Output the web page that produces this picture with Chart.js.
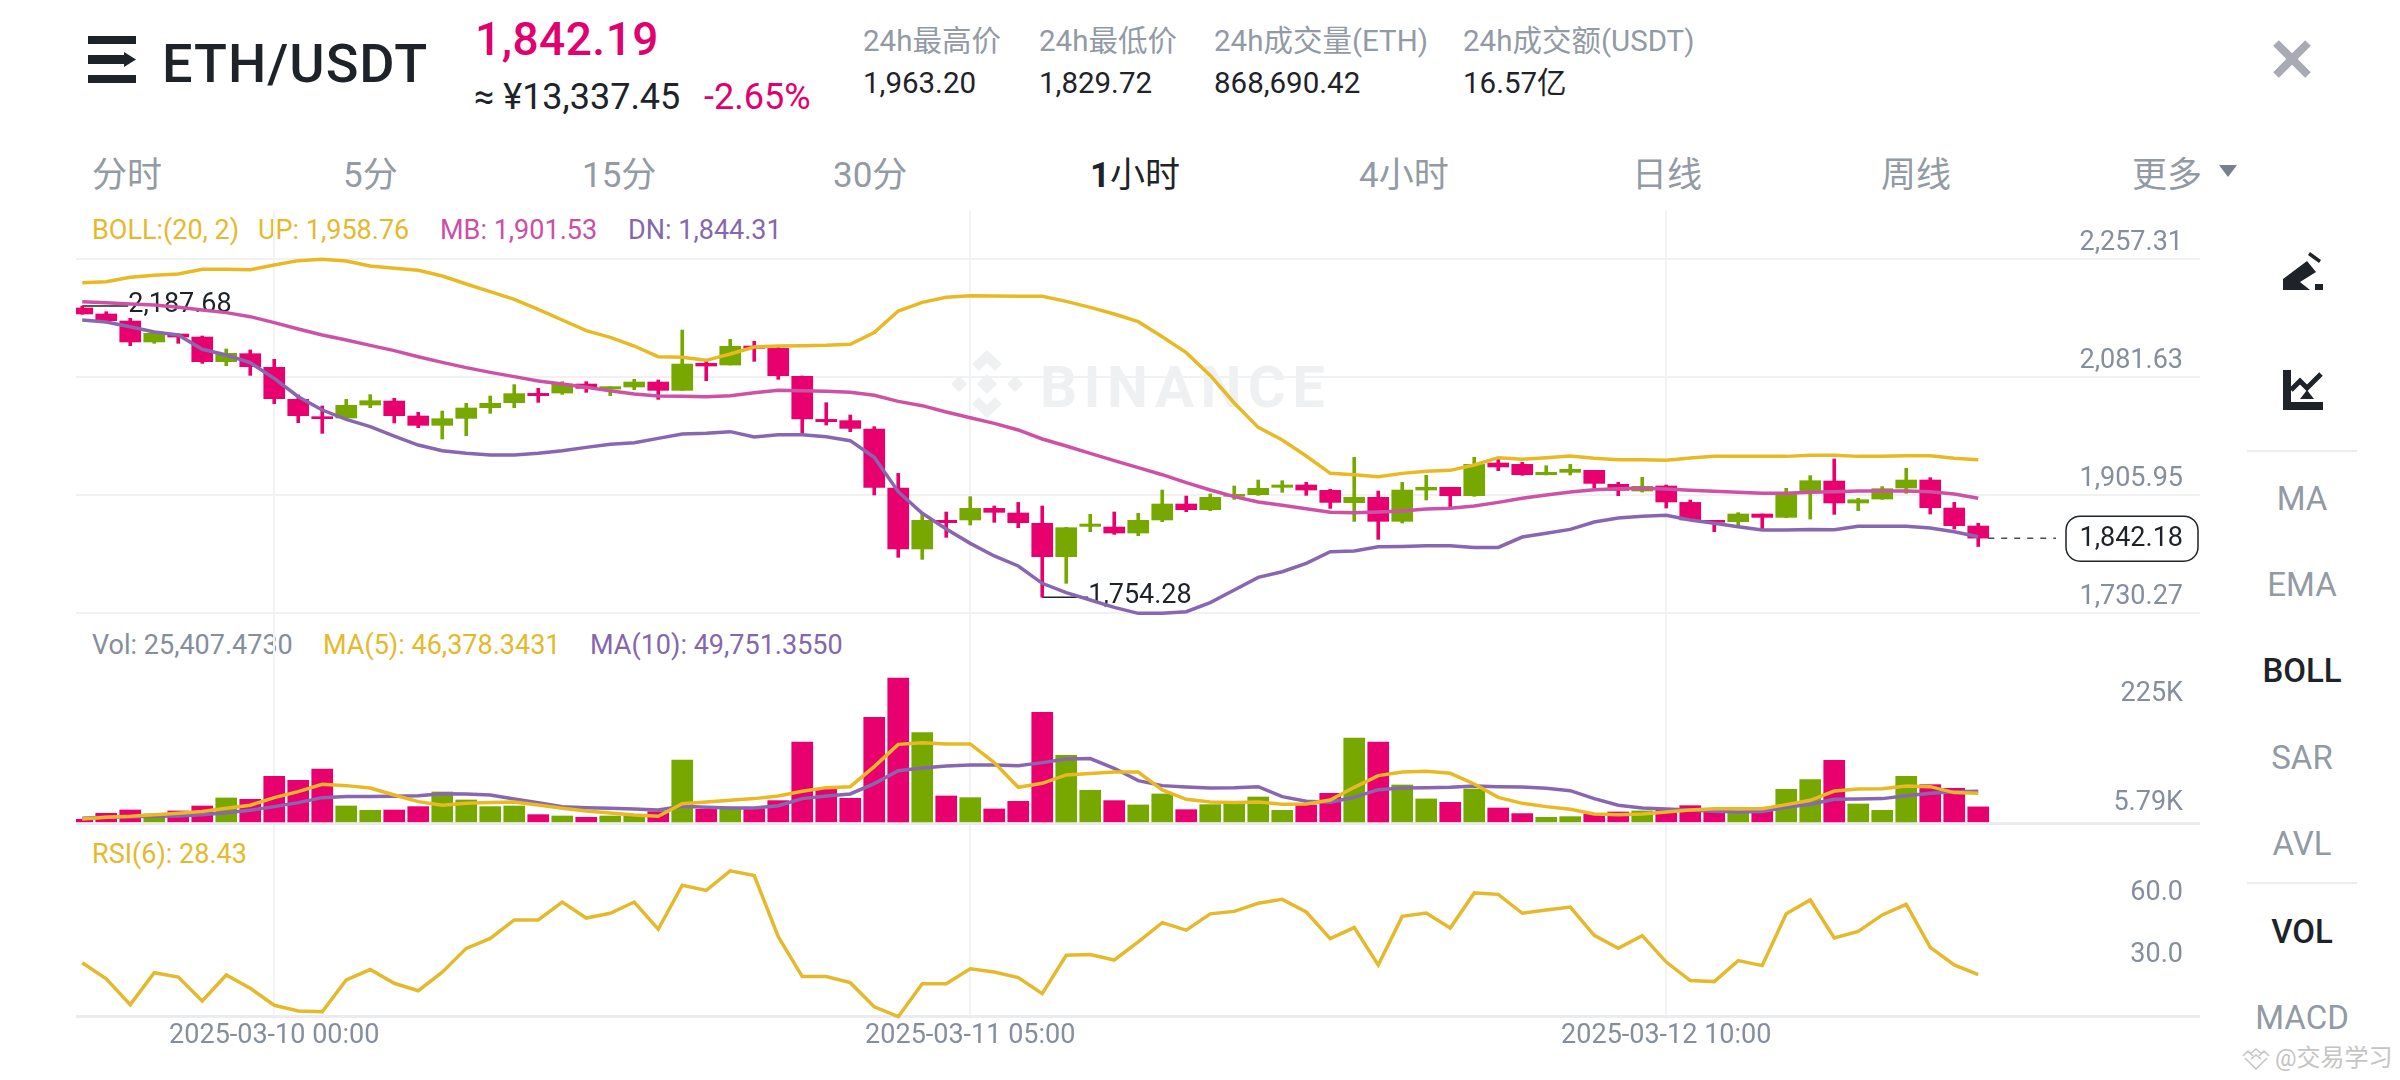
<!DOCTYPE html>
<html>
<head>
<meta charset="utf-8">
<title>ETH/USDT</title>
<script src="https://cdn.jsdelivr.net/npm/chart.js@4/dist/chart.umd.min.js"></script>
<style>
html, body { margin: 0; padding: 0; background: #fff; }
body { position: relative; width: 2400px; height: 1080px; overflow: hidden; font-family: Roboto, "Noto Sans CJK SC", sans-serif; color: #1E2329; }
.t { position: absolute; white-space: nowrap; line-height: 1; }
.grey { color: #929AA5; }
.pink { color: #E0006E; }
.yellow { color: #E5B92C; }
.magenta { color: #CB4FA6; }
.purple { color: #8567AC; }
.side { left: 2202px; width: 200px; text-align: center; font-size: 33px; }
.tab { top: 158px; font-size: 35px; }
.legend { font-size: 27px; }
.stat { font-size: 29.5px; }
.sep { position: absolute; left: 2247px; width: 110px; height: 2px; background: #EAECEF; }
canvas { position: absolute; left: 76px; }
svg { position: absolute; }
</style>
</head>
<body>

<!-- watermark sits under the transparent canvases -->
<svg style="left:950px;top:350px" width="74" height="68" viewBox="0 0 74 68" fill="#EEF0F2">
  <path d="M37 0 L52 14 L45 21 L37 13 L29 21 L22 14 Z"/>
  <path d="M37 68 L52 54 L45 47 L37 55 L29 47 L22 54 Z"/>
  <path d="M37 24 L47 34 L37 44 L27 34 Z"/>
  <path d="M9 26 L17 34 L9 42 L1 34 Z"/>
  <path d="M65 26 L73 34 L65 42 L57 34 Z"/>
</svg>
<div class="t" style="left:1040px;top:358px;font-size:58px;font-weight:700;letter-spacing:6.5px;color:#EEF0F2">BINANCE</div>

<svg style="left:88px;top:36px" width="48" height="47" fill="#1E2329">
  <rect x="0" y="0" width="48" height="8"/>
  <rect x="0" y="19" width="36" height="9"/>
  <polygon points="36,16 48,23.5 36,31"/>
  <rect x="0" y="39" width="48" height="8"/>
</svg>
<div class="t" style="left:162px;top:37px;font-size:54px;font-weight:500;letter-spacing:1px">ETH/USDT</div>
<div class="t pink" style="left:475px;top:16px;font-size:46px;font-weight:500;letter-spacing:.5px">1,842.19</div>
<div class="t" style="left:474px;top:79px;font-size:36px">≈ ¥13,337.45</div>
<div class="t pink" style="left:704px;top:79px;font-size:36px">-2.65%</div>

<div class="t stat grey" style="left:863px;top:27px">24h最高价</div>
<div class="t stat" style="left:863px;top:69px">1,963.20</div>
<div class="t stat grey" style="left:1039px;top:27px">24h最低价</div>
<div class="t stat" style="left:1039px;top:69px">1,829.72</div>
<div class="t stat grey" style="left:1214px;top:27px">24h成交量(ETH)</div>
<div class="t stat" style="left:1214px;top:69px">868,690.42</div>
<div class="t stat grey" style="left:1463px;top:27px">24h成交额(USDT)</div>
<div class="t stat" style="left:1463px;top:69px">16.57亿</div>

<div class="t tab grey" style="left:92px">分时</div>
<div class="t tab grey" style="left:343px">5分</div>
<div class="t tab grey" style="left:582px">15分</div>
<div class="t tab grey" style="left:833px">30分</div>
<div class="t tab" style="left:1090px"><b style="font-weight:700">1</b>小时</div>
<div class="t tab grey" style="left:1359px">4小时</div>
<div class="t tab grey" style="left:1632px">日线</div>
<div class="t tab grey" style="left:1881px">周线</div>
<div class="t tab grey" style="left:2132px">更多</div>
<svg style="left:2219px;top:165px" width="18" height="12"><polygon points="0,0 18,0 9,12" fill="#76808F"/></svg>

<div class="t legend yellow" style="left:92px;top:217px">BOLL:(20, 2)</div>
<div class="t legend yellow" style="left:258px;top:217px">UP: 1,958.76</div>
<div class="t legend magenta" style="left:440px;top:217px">MB: 1,901.53</div>
<div class="t legend purple" style="left:628px;top:217px">DN: 1,844.31</div>
<div class="t legend" style="left:92px;top:632px;color:#848E9C">Vol: 25,407.4730</div>
<div class="t legend yellow" style="left:323px;top:632px">MA(5): 46,378.3431</div>
<div class="t legend purple" style="left:590px;top:632px">MA(10): 49,751.3550</div>
<div class="t legend yellow" style="left:92px;top:841px">RSI(6): 28.43</div>

<canvas id="priceChart" width="2124" height="407" style="top:210px"></canvas>
<canvas id="volChart" width="2124" height="209" style="top:617px"></canvas>
<canvas id="rsiChart" width="2124" height="237" style="top:826px"></canvas>

<svg style="left:2273px;top:40px" width="38" height="38" stroke="#A8ABB3" stroke-width="8"><line x1="3" y1="3" x2="35" y2="35"/><line x1="35" y1="3" x2="3" y2="35"/></svg>
<svg style="left:2283px;top:252px" width="40" height="38" fill="#1E2329">
  <polygon points="0,38 0,27 24,9 33,20 17,30 27,38"/>
  <polygon points="27,0 38,8 36,11 25,3"/>
  <rect x="32" y="32" width="8" height="6"/>
</svg>
<svg style="left:2283px;top:370px" width="40" height="40" fill="#1E2329">
  <rect x="0" y="0" width="8" height="40"/>
  <rect x="0" y="32" width="40" height="8"/>
  <polyline points="8,20 17,11 24,18 38,4" fill="none" stroke="#1E2329" stroke-width="5"/>
  <polygon points="17,29 24,20 31,29"/>
</svg>
<div class="sep" style="top:450px"></div>
<div class="t side grey" style="top:482px">MA</div>
<div class="t side grey" style="top:568px">EMA</div>
<div class="t side" style="top:654px;font-weight:500">BOLL</div>
<div class="t side grey" style="top:741px">SAR</div>
<div class="t side grey" style="top:827px">AVL</div>
<div class="sep" style="top:882px"></div>
<div class="t side" style="top:915px;font-weight:500">VOL</div>
<div class="t side grey" style="top:1001px">MACD</div>

<svg style="left:2242px;top:1048px" width="28" height="22" fill="none" stroke="#C4C4C4" stroke-width="1.5">
  <path d="M1 8 L6 3 L11 8 M17 8 L22 3 L27 8 M8 6 L14 1 L20 6 M9 11 L14 7 L19 11 M3 10 L14 21 L25 10"/>
</svg>
<div class="t" style="left:2275px;top:1046px;font-size:24px;color:#C4C4C4">@交易学习</div>

<script>
var opens = [
    2184.8, 2175.9, 2165.4, 2134.2, 2146.1, 2141.6, 2104.9, 2116.8, 2096.5, 2048.8,
    2023.0, 2021.0, 2040.4, 2046.3, 2024.0, 2010.1, 2020.5, 2036.4, 2043.8, 2057.7,
    2058.2, 2071.6, 2064.2, 2067.2, 2074.6, 2062.2, 2102.4, 2099.9, 2128.2, 2124.7,
    2083.1, 2019.0, 2017.1, 2004.6, 1916.8, 1826.0, 1868.7, 1869.2, 1886.5, 1879.6,
    1864.2, 1814.6, 1859.7, 1858.7, 1849.8, 1869.2, 1893.0, 1884.5, 1904.4, 1906.9,
    1917.8, 1921.3, 1913.3, 1895.0, 1902.9, 1867.2, 1913.8, 1917.8, 1905.4, 1954.0,
    1952.0, 1936.6, 1940.1, 1943.1, 1922.3, 1912.3, 1919.8, 1895.4, 1868.7, 1866.7,
    1878.1, 1873.1, 1910.4, 1927.2, 1894.5, 1900.4, 1916.8, 1928.7, 1887.0, 1860.2
];
var closes = [
    2175.9, 2165.9, 2134.2, 2147.1, 2141.6, 2104.9, 2117.3, 2097.4, 2049.8, 2024.5,
    2020.0, 2039.9, 2046.8, 2024.5, 2010.1, 2020.0, 2035.9, 2042.9, 2057.3, 2054.3,
    2071.6, 2065.2, 2067.7, 2074.6, 2062.2, 2101.4, 2098.4, 2127.7, 2124.7, 2084.0,
    2019.5, 2015.6, 2005.6, 1917.8, 1826.0, 1868.7, 1865.2, 1886.5, 1880.6, 1865.2,
    1814.6, 1857.7, 1863.2, 1849.8, 1868.7, 1893.0, 1884.5, 1902.9, 1907.4, 1916.3,
    1921.3, 1913.8, 1895.4, 1902.9, 1867.2, 1913.8, 1917.8, 1905.4, 1952.0, 1948.1,
    1936.6, 1940.1, 1944.6, 1923.7, 1913.3, 1919.3, 1896.0, 1869.2, 1865.7, 1878.1,
    1873.1, 1907.4, 1927.7, 1894.5, 1899.4, 1915.8, 1928.7, 1887.5, 1860.7, 1842.18
];
var highs = [
    2187.68, 2179.3, 2169.4, 2149.6, 2146.1, 2143.1, 2123.8, 2122.3, 2108.4, 2055.3,
    2038.9, 2048.8, 2055.8, 2050.3, 2029.5, 2031.4, 2042.9, 2053.8, 2070.7, 2065.2,
    2075.1, 2075.1, 2067.7, 2078.6, 2077.6, 2152.0, 2106.4, 2138.1, 2135.2, 2127.2,
    2083.6, 2043.8, 2025.5, 2008.1, 1938.6, 1879.1, 1881.1, 1903.9, 1890.0, 1895.4,
    1890.0, 1858.2, 1877.6, 1881.1, 1879.1, 1913.8, 1904.9, 1907.9, 1919.8, 1928.7,
    1927.7, 1925.2, 1914.8, 1962.5, 1912.3, 1925.2, 1935.7, 1917.8, 1962.5, 1959.5,
    1955.0, 1950.0, 1952.0, 1943.1, 1925.2, 1932.7, 1921.3, 1898.9, 1868.7, 1880.1,
    1878.1, 1916.3, 1935.2, 1960.0, 1901.4, 1918.8, 1946.1, 1932.2, 1895.4, 1864.2
];
var lows = [
    2175.5, 2164.4, 2128.7, 2132.2, 2132.2, 2102.4, 2098.9, 2084.5, 2042.4, 2014.1,
    1998.2, 2021.0, 2036.4, 2013.6, 2006.6, 1989.8, 1994.7, 2028.0, 2036.4, 2044.3,
    2056.3, 2059.2, 2054.3, 2063.2, 2048.8, 2062.2, 2076.6, 2099.9, 2105.4, 2078.6,
    1995.7, 2010.6, 2000.7, 1906.4, 1813.6, 1810.6, 1843.4, 1861.7, 1865.7, 1857.7,
    1754.28, 1774.9, 1851.8, 1847.8, 1845.8, 1866.7, 1881.6, 1883.0, 1899.9, 1905.9,
    1910.4, 1905.9, 1886.5, 1867.2, 1840.4, 1864.7, 1898.9, 1889.0, 1904.4, 1942.6,
    1935.7, 1936.2, 1936.2, 1916.3, 1905.4, 1910.8, 1887.0, 1868.2, 1851.8, 1860.2,
    1855.3, 1872.6, 1870.6, 1877.6, 1883.0, 1899.9, 1908.9, 1878.1, 1855.7, 1829.72
];
var bollUp = [
    2222.5, 2224.0, 2230.5, 2233.4, 2235.4, 2242.4, 2242.4, 2241.9, 2248.8, 2255.3,
    2257.3, 2254.8, 2247.3, 2243.9, 2240.9, 2232.4, 2220.5, 2209.1, 2197.7, 2182.8,
    2166.9, 2151.1, 2141.1, 2128.2, 2112.3, 2111.3, 2106.9, 2116.3, 2126.7, 2128.2,
    2128.7, 2129.2, 2130.7, 2148.1, 2180.3, 2193.2, 2200.7, 2203.2, 2202.7, 2202.2,
    2202.2, 2194.7, 2185.8, 2175.9, 2164.4, 2142.1, 2118.3, 2084.5, 2043.4, 2007.1,
    1988.3, 1964.4, 1938.6, 1936.6, 1933.7, 1938.6, 1941.6, 1943.1, 1951.0, 1962.0,
    1959.5, 1962.0, 1964.4, 1961.0, 1959.0, 1959.0, 1958.0, 1961.5, 1963.9, 1963.9,
    1963.9, 1963.9, 1965.4, 1965.4, 1963.9, 1963.9, 1964.9, 1964.9, 1961.0, 1958.76
];
var bollMid = [
    2194.2, 2192.7, 2190.8, 2189.3, 2185.8, 2181.8, 2177.9, 2171.9, 2163.0, 2153.5,
    2144.6, 2137.2, 2129.2, 2121.3, 2112.3, 2103.9, 2096.0, 2089.0, 2082.6, 2076.1,
    2071.6, 2066.7, 2061.7, 2056.8, 2053.8, 2053.3, 2052.8, 2054.3, 2058.7, 2062.2,
    2061.7, 2060.7, 2059.2, 2054.8, 2045.8, 2039.4, 2030.0, 2021.5, 2013.1, 2003.2,
    1989.8, 1979.3, 1968.4, 1957.5, 1947.1, 1936.6, 1924.7, 1913.8, 1903.9, 1896.0,
    1891.0, 1886.0, 1880.6, 1880.1, 1881.1, 1882.6, 1885.5, 1886.5, 1890.0, 1895.4,
    1901.4, 1906.4, 1910.8, 1914.3, 1915.8, 1916.3, 1915.3, 1913.3, 1911.8, 1910.4,
    1908.9, 1908.9, 1910.4, 1911.3, 1912.3, 1912.3, 1912.3, 1911.3, 1907.9, 1901.53
];
var bollDn = [
    2166.9, 2164.0, 2157.0, 2149.1, 2144.6, 2123.3, 2114.8, 2103.4, 2080.1, 2052.8,
    2032.9, 2019.0, 2008.1, 1994.2, 1980.8, 1972.4, 1968.4, 1965.9, 1965.9, 1968.4,
    1972.4, 1977.3, 1981.8, 1984.3, 1990.7, 1997.2, 1998.2, 2000.7, 1992.7, 1996.2,
    1996.2, 1993.2, 1987.3, 1962.5, 1911.3, 1879.1, 1855.7, 1834.4, 1815.6, 1800.7,
    1774.9, 1761.0, 1750.0, 1739.1, 1730.2, 1730.2, 1732.7, 1746.1, 1765.0, 1783.8,
    1792.2, 1804.6, 1822.0, 1823.0, 1829.4, 1829.9, 1830.9, 1830.9, 1828.4, 1828.4,
    1843.8, 1849.3, 1855.2, 1866.2, 1872.1, 1874.6, 1876.1, 1869.2, 1864.2, 1859.2,
    1854.3, 1854.3, 1855.2, 1854.8, 1859.7, 1859.7, 1859.7, 1857.2, 1851.8, 1844.31
];
// volume, in thousands
var volumes = [
    6.2, 15.5, 20.6, 14.4, 19.1, 26.8, 39.2, 37.1, 72.7, 66.5,
    84.1, 26.8, 20.1, 20.6, 25.8, 48.5, 36.1, 25.8, 26.8, 13.4,
    11.3, 9.3, 11.3, 11.3, 18.1, 98.0, 21.7, 23.2, 23.2, 35.1,
    125.9, 53.6, 38.7, 164.0, 224.9, 140.3, 42.3, 39.7, 22.2, 34.0,
    171.8, 105.2, 51.1, 35.1, 28.4, 45.4, 21.1, 28.9, 30.9, 40.7,
    20.1, 28.4, 46.4, 132.0, 125.9, 59.3, 37.7, 32.5, 53.1, 23.7,
    15.0, 9.3, 10.3, 14.4, 17.5, 19.1, 20.6, 27.3, 22.2, 16.0,
    20.6, 52.6, 67.6, 97.5, 29.9, 20.1, 72.7, 59.8, 54.2, 25.407
];
var volMa5 = [
    6.7, 9.3, 10.8, 13.4, 15.5, 18.1, 23.2, 27.9, 39.7, 49.0,
    60.3, 58.3, 54.7, 43.8, 33.5, 27.9, 30.9, 32.0, 33.0, 28.4,
    23.2, 19.1, 16.0, 12.9, 10.8, 30.4, 33.0, 35.6, 38.2, 42.3,
    49.5, 55.2, 56.7, 87.7, 122.2, 124.8, 122.8, 122.8, 93.9, 55.7,
    61.9, 74.8, 76.9, 79.4, 79.4, 51.6, 37.1, 33.0, 32.0, 33.0,
    29.4, 29.9, 36.1, 55.7, 73.8, 79.4, 80.5, 77.4, 60.9, 40.2,
    30.9, 25.8, 21.7, 14.4, 13.4, 14.4, 17.5, 20.6, 22.7, 22.7,
    22.7, 28.9, 35.6, 50.0, 53.1, 53.6, 57.8, 56.7, 47.5, 46.378
];
var volMa10 = [
    7.7, 9.3, 10.3, 10.8, 11.3, 13.4, 16.5, 20.1, 25.8, 32.0,
    39.7, 41.3, 41.3, 41.8, 42.8, 45.9, 45.4, 43.8, 37.7, 32.0,
    25.8, 24.2, 23.2, 22.2, 20.6, 26.3, 24.8, 23.7, 23.7, 27.3,
    38.2, 42.3, 45.4, 61.4, 81.5, 85.6, 88.7, 90.3, 90.3, 89.2,
    93.9, 99.5, 100.1, 85.1, 66.0, 58.3, 56.2, 54.7, 55.2, 56.7,
    41.3, 34.0, 32.5, 40.2, 52.1, 54.7, 55.2, 55.7, 57.8, 56.7,
    56.2, 54.2, 50.5, 38.2, 27.9, 23.7, 22.2, 20.6, 18.6, 17.5,
    18.1, 24.8, 29.4, 37.1, 37.7, 38.2, 42.8, 46.4, 49.0, 49.751
];
var rsi6 = [
    34.2, 26.4, 14.0, 29.4, 27.3, 15.8, 28.3, 21.9, 13.7, 11.0,
    10.6, 25.9, 30.9, 24.3, 20.7, 29.6, 41.1, 45.9, 54.8, 54.8,
    63.4, 55.7, 58.0, 63.4, 50.3, 71.5, 69.0, 78.4, 76.1, 46.7,
    27.5, 27.5, 24.6, 13.0, 8.2, 24.1, 24.1, 31.3, 29.7, 27.0,
    19.3, 37.8, 38.1, 35.5, 44.2, 53.5, 49.9, 57.7, 58.9, 62.8,
    64.7, 58.6, 45.8, 51.1, 33.1, 56.5, 58.1, 50.9, 67.8, 67.1,
    58.0, 59.6, 61.0, 47.4, 41.1, 47.2, 34.5, 25.6, 25.1, 35.2,
    32.8, 57.8, 64.4, 46.1, 49.3, 57.2, 62.3, 41.6, 33.1, 28.43
];
var priceTicks = [1730.27, 1905.95, 2081.63, 2257.31];
// 300 carries no label, it only stops the two-line 225K label eating into the pane
var volTicks = [0, 5.79, 225, 300];
var rsiTicks = [8.2, 30, 60];
var timeTicks = [8, 37, 66];
var timeLabels = ['2025-03-10 00:00', '2025-03-11 05:00', '2025-03-12 10:00'];

var PINK = '#E8006E';
var GREEN = '#76A800';
var TICK_GREY = '#848E9C';
var FONT = 'Roboto, "Noto Sans CJK SC", sans-serif';

Chart.defaults.font.family = FONT;
Chart.defaults.animation = false;
Chart.defaults.devicePixelRatio = 1;

function candleColor(i)
{
    return closes[i] >= opens[i] ? GREEN : PINK;
}

function points(values)
{
    return values.map(function (v, i) { return {x: i, y: v}; });
}

function lineSet(values, color)
{
    return {
        type: 'line',
        data: points(values),
        borderColor: color,
        borderWidth: 3.5,
        pointRadius: 0,
        tension: 0,
        order: 1
    };
}

function formatPrice(v)
{
    return v.toLocaleString('en-US', {minimumFractionDigits: 2, maximumFractionDigits: 2});
}

// shared x scale, a linear one so every pane keeps the same candle spacing
function xScale(showLabels)
{
    return {
        type: 'linear',
        offset: false,
        min: -0.26,
        max: 88.24,
        grid: {color: '#F2F3F5', lineWidth: 2, drawTicks: false, offset: false},
        border: {display: false},
        afterBuildTicks: function (scale) {
            scale.ticks = timeTicks.map(function (v) { return {value: v}; });
        },
        afterFit: function (scale) {
            scale.height = showLabels ? 44 : 0;
        },
        ticks: {
            display: showLabels,
            autoSkip: false,
            maxRotation: 0,
            padding: 1,
            color: TICK_GREY,
            font: {size: 27},
            callback: function (v) {
                return timeLabels[timeTicks.indexOf(v)];
            }
        }
    };
}

function yScale(min, max, tickValues, labelFn, labelOffset, gridColor, gridWidth)
{
    return {
        position: 'right',
        min: min,
        max: max,
        grid: {color: gridColor, lineWidth: gridWidth, drawTicks: false},
        border: {display: false},
        afterBuildTicks: function (scale) {
            scale.ticks = tickValues.map(function (v) { return {value: v}; });
        },
        afterFit: function (scale) {
            scale.width = 0;
        },
        ticks: {
            mirror: true,
            autoSkip: false,
            padding: -17,
            labelOffset: labelOffset,
            color: TICK_GREY,
            font: {size: 27},
            callback: labelFn
        }
    };
}

function baseOptions(x, y)
{
    return {
        responsive: false,
        layout: {padding: 0, autoPadding: false},
        plugins: {legend: {display: false}, tooltip: {enabled: false}},
        events: [],
        scales: {x: x, y: y}
    };
}

// extreme price notes and the last price box on the price pane
var priceNotes = {
    id: 'priceNotes',
    beforeDatasetsDraw: function (chart) {
        var sx = chart.scales.x, sy = chart.scales.y;
        var top = Math.max.apply(null, highs), bottom = Math.min.apply(null, lows);
        drawExtreme(chart.ctx, sx.getPixelForValue(highs.indexOf(top)), sy.getPixelForValue(top), top);
        drawExtreme(chart.ctx, sx.getPixelForValue(lows.indexOf(bottom)), sy.getPixelForValue(bottom), bottom);
    },
    afterDatasetsDraw: function (chart) {
        var ctx = chart.ctx, sx = chart.scales.x, sy = chart.scales.y;
        var last = closes[closes.length - 1];
        var px = sx.getPixelForValue(closes.length - 1), py = sy.getPixelForValue(last);
        ctx.save();
        ctx.strokeStyle = '#474D57';
        ctx.lineWidth = 1.5;
        ctx.setLineDash([6, 7]);
        ctx.beginPath();
        ctx.moveTo(px + 10, py);
        ctx.lineTo(chart.chartArea.right - 144, py);
        ctx.stroke();
        ctx.setLineDash([]);
        ctx.beginPath();
        ctx.roundRect(chart.chartArea.right - 134, py - 22, 132, 45, 14);
        ctx.fillStyle = '#fff';
        ctx.fill();
        ctx.strokeStyle = '#1E2329';
        ctx.stroke();
        ctx.fillStyle = '#1E2329';
        ctx.font = '27px ' + FONT;
        ctx.textAlign = 'right';
        ctx.textBaseline = 'middle';
        ctx.fillText(formatPrice(last), chart.chartArea.right - 17, py + 1);
        ctx.restore();
    }
};

function drawExtreme(ctx, x, y, value)
{
    ctx.save();
    ctx.strokeStyle = '#1E2329';
    ctx.lineWidth = 1.5;
    ctx.beginPath();
    ctx.moveTo(x, y);
    ctx.lineTo(x + 46, y);
    ctx.stroke();
    ctx.fillStyle = '#1E2329';
    ctx.font = '27px ' + FONT;
    ctx.textAlign = 'left';
    ctx.textBaseline = 'middle';
    ctx.fillText(formatPrice(value), x + 46, y - 1);
    ctx.restore();
}

new Chart(document.getElementById('priceChart'), {
    type: 'bar',
    plugins: [priceNotes],
    data: {
        datasets: [
            lineSet(bollUp, '#E8B923'),
            lineSet(bollMid, '#CD52A6'),
            lineSet(bollDn, '#8866B0'),
            {
                data: opens.map(function (o, i) { return {x: i, y: [o, closes[i]]}; }),
                backgroundColor: opens.map(function (o, i) { return candleColor(i); }),
                barThickness: 21,
                grouped: false,
                order: 2
            },
            {
                data: lows.map(function (l, i) { return {x: i, y: [l, highs[i]]}; }),
                backgroundColor: lows.map(function (l, i) { return candleColor(i); }),
                barThickness: 3,
                grouped: false,
                order: 3
            }
        ]
    },
    options: baseOptions(
        xScale(false),
        yScale(1724.76, 2330.7, priceTicks, function (v) { return formatPrice(v); }, -16, '#F0F1F2', 2)
    )
});

new Chart(document.getElementById('volChart'), {
    type: 'bar',
    data: {
        datasets: [
            lineSet(volMa5, '#E8B923'),
            lineSet(volMa10, '#8866B0'),
            {
                data: points(volumes),
                backgroundColor: volumes.map(function (v, i) { return candleColor(i); }),
                barThickness: 21,
                grouped: false,
                order: 2
            }
        ]
    },
    options: baseOptions(
        xScale(false),
        yScale(-4.18, 319.3, volTicks, function (v) {
            // two-line labels push the text off the tick, as the app does
            if (v === 225) return ['', '225K'];
            if (v === 5.79) return ['5.79K', ''];
            return '';
        }, 0, function (c) {
            return c.tick && c.tick.value === 0 ? '#EAECEF' : 'rgba(0,0,0,0)';
        }, 3)
    )
});

new Chart(document.getElementById('rsiChart'), {
    type: 'line',
    data: {
        datasets: [lineSet(rsi6, '#E5B92C')]
    },
    options: baseOptions(
        xScale(true),
        yScale(7.1, 100, rsiTicks, function (v) {
            return v === rsiTicks[0] ? '' : v.toFixed(1);
        }, -16, function (c) {
            return c.tick && c.tick.value === rsiTicks[0] ? '#EAECEF' : 'rgba(0,0,0,0)';
        }, 3)
    )
});
</script>
</body>
</html>
